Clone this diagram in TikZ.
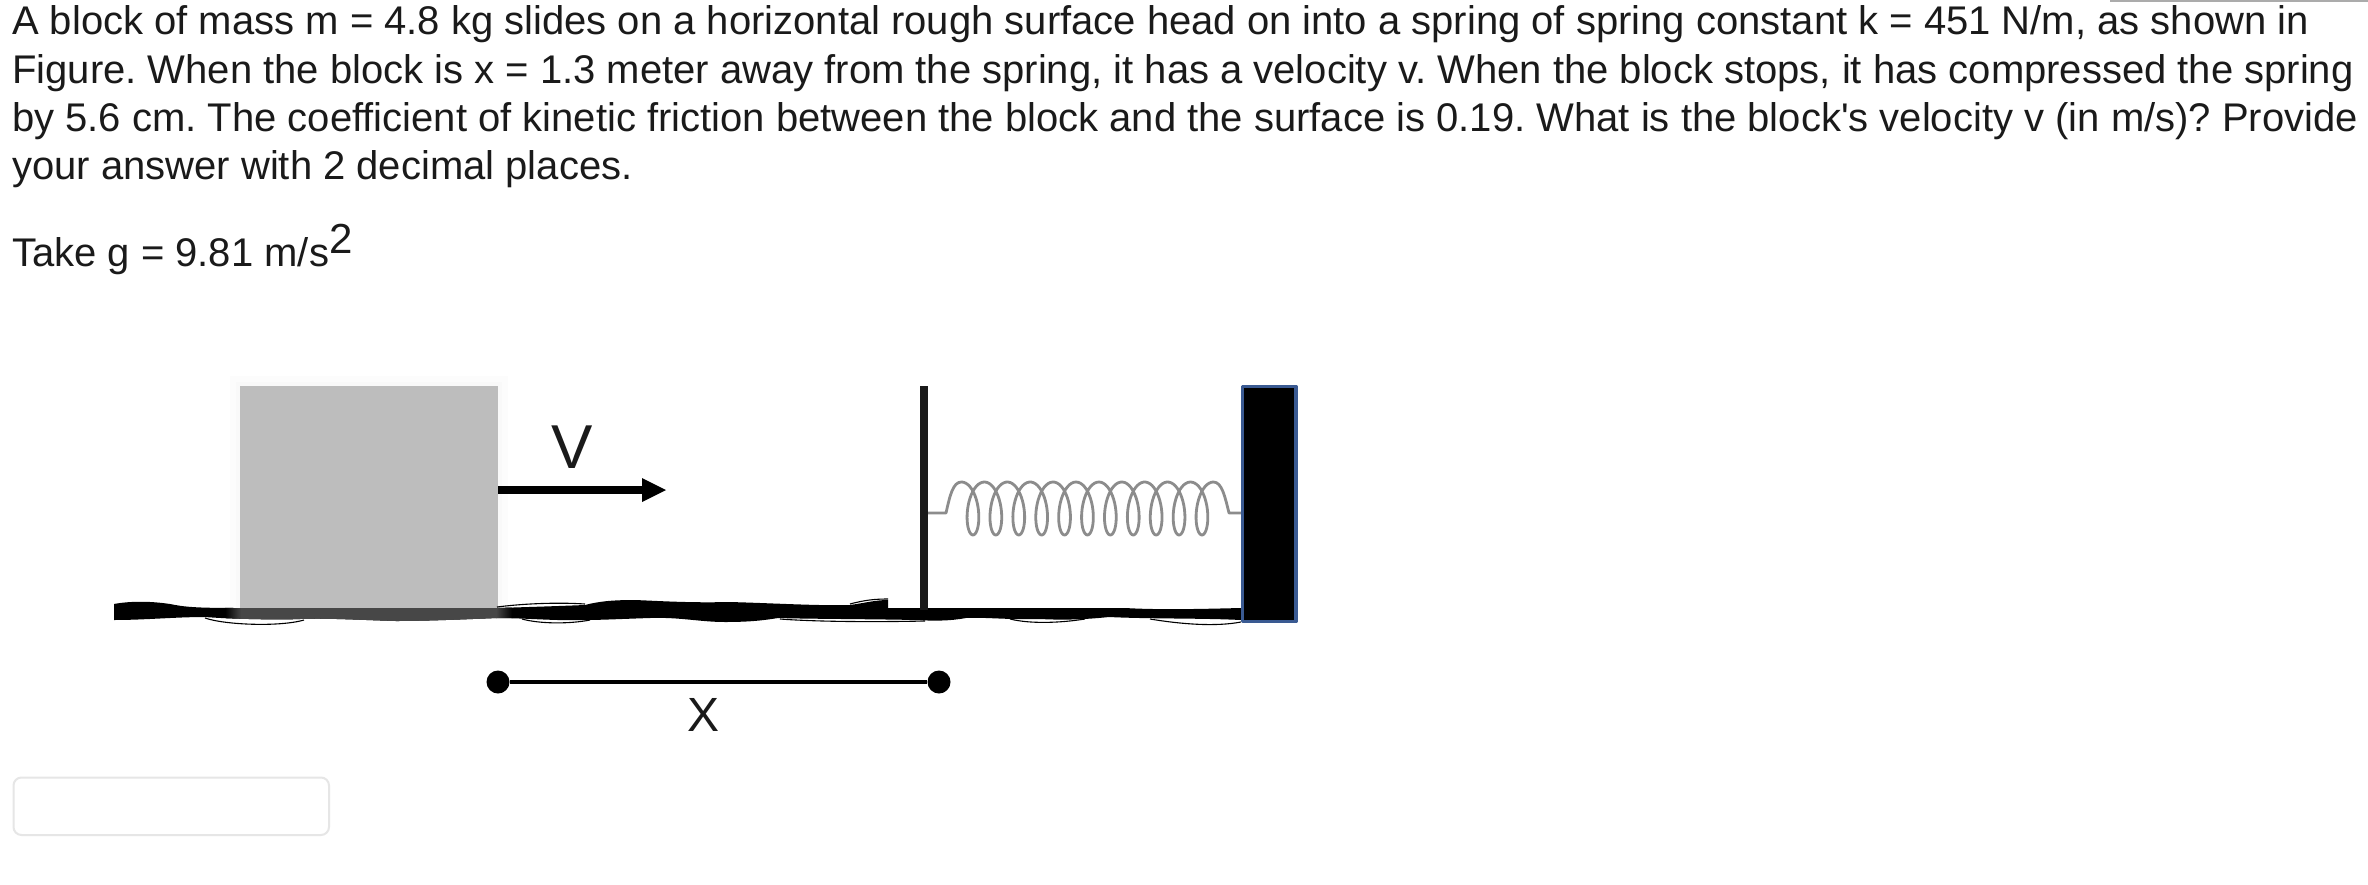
\documentclass[tikz,border=0pt]{standalone}
\usepackage{fontspec}
\setmainfont{Liberation Sans}
\newfontfamily\straightfont{Liberation Sans}
\definecolor{ink}{HTML}{1A1A1A}
\definecolor{wallblue}{HTML}{3A5A92}
\definecolor{blockgray}{HTML}{BDBDBD}
\definecolor{springgray}{HTML}{8C8C8C}
\definecolor{boxgray}{HTML}{E6E6E6}
\tikzset{
  qline/.style={anchor=base west,inner sep=0pt,font=\fontsize{40bp}{44bp}\selectfont,text=ink},
  lbl/.style={inner sep=0pt,text=ink},
  thinline/.style={black,line width=1.1bp},
  enddot/.style={circle,fill=black,inner sep=0pt,minimum size=23bp}
}
\def\surfpath{(114,604) .. controls (130,601) and (150,601) .. (170,604)
 .. controls (185,607) and (195,608) .. (240,608) -- (497,608)
 .. controls (530,607) and (560,606) .. (585,605)
 .. controls (600,601) and (615,600) .. (635,600)
 .. controls (660,601) and (690,603) .. (729,602)
 .. controls (770,603) and (820,606) .. (850,605)
 .. controls (865,603) and (875,600) .. (888,600) -- (888,608)
 -- (1125,608) .. controls (1160,610) and (1200,609) .. (1241,608)
 -- (1241,620) .. controls (1200,618) and (1150,619) .. (1109,617)
 .. controls (1080,620) and (1060,620) .. (1040,619)
 .. controls (1010,620) and (985,617) .. (966,618)
 .. controls (950,621) and (935,621) .. (915,620)
 .. controls (870,619) and (810,619) .. (778,618)
 .. controls (760,621) and (745,622) .. (725,622)
 .. controls (700,622) and (680,617) .. (650,618)
 .. controls (620,619) and (600,620) .. (585,620)
 .. controls (555,621) and (525,618) .. (497,618)
 .. controls (450,620) and (420,621) .. (396,621)
 .. controls (360,620) and (330,618) .. (300,619)
 .. controls (280,620) and (230,619) .. (205,617)
 .. controls (175,617) and (145,620) .. (114,620) -- cycle}
\begin{document}
\begin{tikzpicture}[x=1bp,y=-1bp,line join=round]
\useasboundingbox (0,0) rectangle (2368,884);
\fill[white] (0,0) rectangle (2368,884);
\fill[black!33] (2110,0) rectangle (2368,2);
\frenchspacing
\node[qline] (l1) at (12,34.5) {A block of mass m = 4.8 kg slides on a horizontal rough surface head on into a spring of spring constant k = 451 N/m, as shown in};
\node[qline] (l2) at (12,83) {Figure. When the block is x = 1.3 meter away from the spring, it has a velocity v. When the block stops, it has compressed the spring};
\node[qline] (l3) at (12,131) {by 5.6 cm. The coefficient of kinetic friction between the block and the surface is 0.19. What is the block{\straightfont '}s velocity v (in m/s)? Provide};
\node[qline] (l4) at (12,179.5) {your answer with 2 decimal places.};
\node[qline] (l5) at (12,266) {Take g = 9.81 m/s\raisebox{13bp}{\fontsize{42bp}{42bp}\selectfont 2}};
% block with faint halo
\fill[black!1.2] (230,376) rectangle (508,612);
\fill[black!2.5] (236,382) rectangle (502,612);
\fill[blockgray] (240,386) rectangle (498,612);
% surface
\fill \surfpath;
\begin{scope}
  \clip \surfpath;
  \fill[black!72] (240,600) rectangle (497,625);
  \shade[left color=black,right color=black!72] (225,600) rectangle (241,625);
  \shade[left color=black!72,right color=black] (496,600) rectangle (512,625);
\end{scope}
\draw[thinline] (205,618) .. controls (225,625) and (280,627) .. (304,620);
\draw[thinline] (497,607) .. controls (520,604) and (555,602) .. (585,604);
\draw[thinline] (522,619) .. controls (540,624) and (570,624) .. (590,620);
\draw[thinline] (780,619) .. controls (820,622) and (880,622) .. (925,621);
\draw[thinline] (1010,619) .. controls (1030,624) and (1060,623) .. (1085,619);
\draw[thinline] (1150,619) .. controls (1180,624) and (1215,627) .. (1241,622);
\draw[thinline] (850,604) .. controls (865,600) and (875,599) .. (888,599);
% arrow
\coordinate (vs) at (498,490);
\coordinate (ve) at (666,490);
\draw[line width=8bp] (vs) -- (645,490);
\fill (642,478) -- (ve) -- (642,502) -- cycle;
\node[lbl,font=\fontsize{62bp}{66bp}\selectfont] (vlab) at (572,447) {V};
% barrier
\coordinate (bt) at (924,386);
\coordinate (bb) at (924,610);
\draw[line width=7.5bp,ink] (bt) -- (bb);
% spring
\draw[springgray,line width=2.8bp]
  (928,513) -- (946,513) .. controls (950,495) and (953,482) .. (961.5,482)
  -- plot[domain=0:3960,samples=461,smooth] ({\x/360*22.9+961.5+11*sin(\x)},{508.5-26.5*cos(\x)})
  .. controls (1222,482) and (1225,497) .. (1229,513) -- (1241,513);
% wall
\fill[black,draw=wallblue,line width=3.2bp] (1242.5,386.5) rectangle (1296,621.5);
% distance x
\node[enddot] (da) at (498,682) {};
\node[enddot] (db) at (939,682) {};
\draw[line width=4bp] (da) -- (db);
\node[lbl,font=\fontsize{48bp}{52bp}\selectfont] (xlab) at (703,715) {X};
% answer box
\draw[boxgray,line width=2bp,rounded corners=8bp] (13.5,777.5) rectangle (329,835);
\end{tikzpicture}
\end{document}
